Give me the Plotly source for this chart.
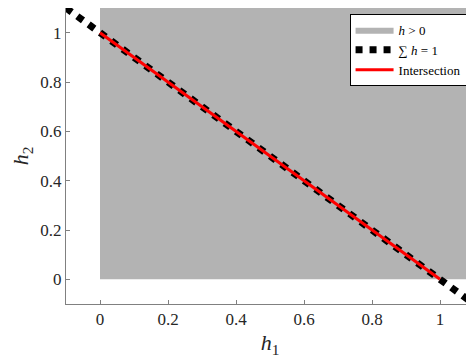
import plotly.graph_objects as go

# Data
region_x = [0, 1.1, 1.1, 0, 0]
region_y = [0, 0, 1.1, 1.1, 0]
sum_line_x = [-0.1, 1.1]
sum_line_y = [1.1, -0.1]
inter_x = [0, 1]
inter_y = [1, 0]
tick_vals = [0, 0.2, 0.4, 0.6, 0.8, 1]
tick_text = ["0", "0.2", "0.4", "0.6", "0.8", "1"]

SERIF = "Times New Roman, Liberation Serif, DejaVu Serif, serif"

fig = go.Figure()
fig.add_trace(go.Scatter(x=region_x, y=region_y, mode="lines", fill="toself",
                         fillcolor="#b3b3b3", line=dict(width=0, color="#b3b3b3"),
                         name="<i>h</i> > 0"))
fig.add_trace(go.Scatter(x=sum_line_x, y=sum_line_y, mode="lines",
                         line=dict(color="black", width=7, dash="dot"),
                         name="∑ <i>h</i> = 1"))
fig.add_trace(go.Scatter(x=inter_x, y=inter_y, mode="lines",
                         line=dict(color="#ff0000", width=3),
                         name="Intersection"))

axis_common = dict(range=[-0.1, 1.1], tickvals=tick_vals, ticktext=tick_text,
                   showgrid=False, zeroline=False, showline=True, linecolor="#808080",
                   linewidth=1, ticks="inside", ticklen=4, tickcolor="#808080",
                   tickfont=dict(family=SERIF, size=17, color="#262626"))

fig.update_layout(
    width=466, height=354,
    margin=dict(l=58, r=0, t=0, b=58),
    plot_bgcolor="white", paper_bgcolor="white",
    font=dict(family=SERIF),
    xaxis=dict(**axis_common, title=dict(text="<i>h</i><sub>1</sub>",
               font=dict(family=SERIF, size=22, color="#262626"), standoff=6)),
    yaxis=dict(**axis_common, title=dict(text="<i>h</i><sub>2</sub>",
               font=dict(family=SERIF, size=22, color="#262626"), standoff=8)),
    legend=dict(x=0.695, y=0.98, xanchor="left", yanchor="top",
                bgcolor="white", bordercolor="black", borderwidth=1,
                font=dict(family=SERIF, size=13, color="black"),
                itemwidth=38, tracegroupgap=0),
    showlegend=True,
)

fig.write_html("out.html")
